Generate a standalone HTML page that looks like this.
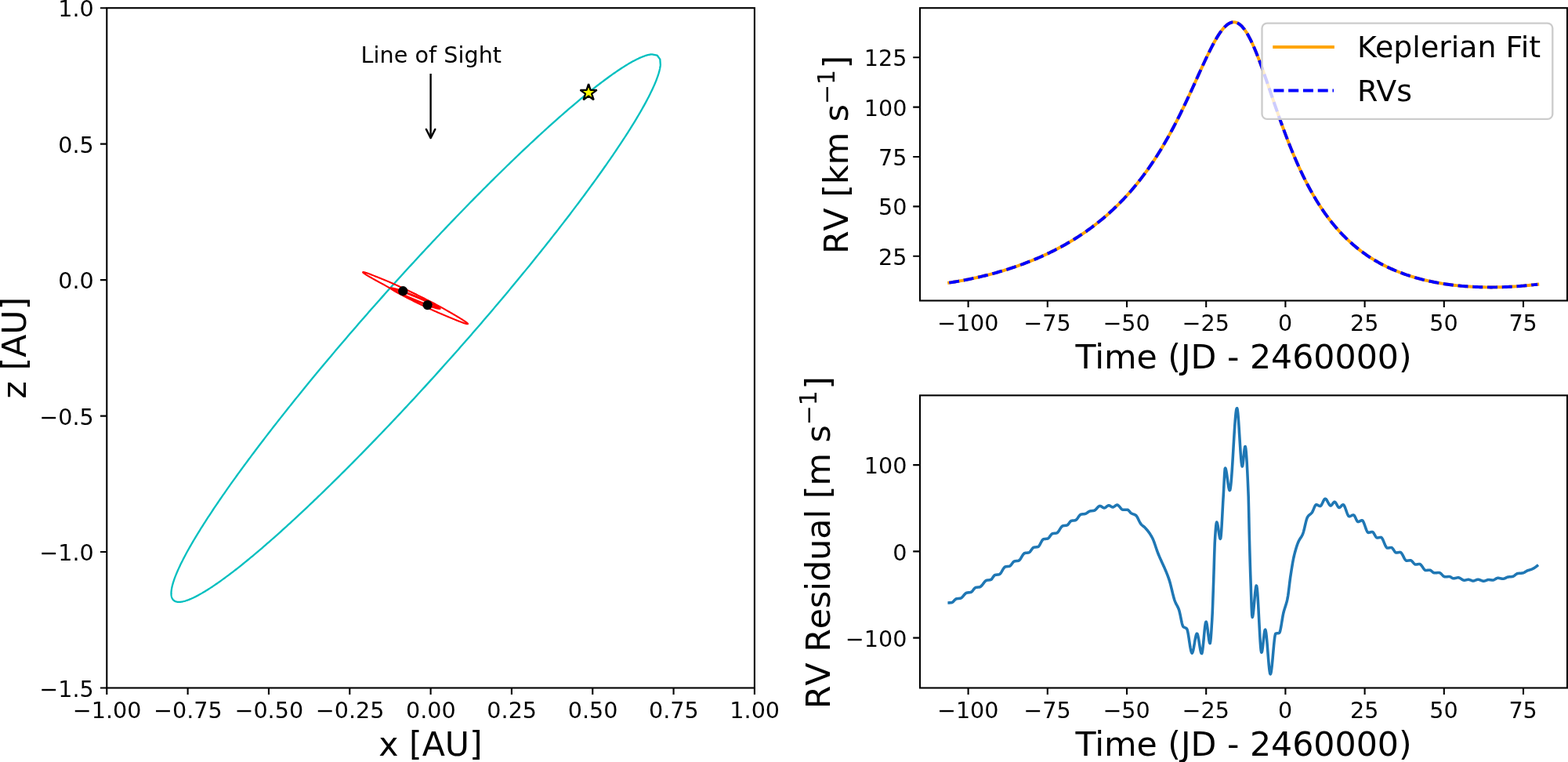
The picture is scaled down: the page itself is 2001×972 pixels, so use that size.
<!DOCTYPE html>
<html lang="en"><head><meta charset="utf-8"><title>Orbit and RV figure</title>
<style>html,body{margin:0;padding:0;background:#fff}svg{display:block}text{font-family:'DejaVu Sans','Liberation Sans',sans-serif;fill:#000}</style></head><body>
<svg width="2001" height="972" viewBox="0 0 2001 972">
<rect width="2001" height="972" fill="#fff"/>
<g fill="none" stroke-linejoin="round" stroke-linecap="round">
<path d="M221.59 765.72L221.22 765.37L220.87 764.99L220.55 764.58L220.25 764.15L219.97 763.69L219.72 763.21L219.49 762.69L219.29 762.16L219.11 761.59L218.95 761.00L218.82 760.39L218.71 759.75L218.62 759.08L218.56 758.39L218.52 757.67L218.51 756.92L218.52 756.15L218.55 755.35L218.61 754.53L218.69 753.68L218.79 752.81L218.92 751.91L219.07 750.99L219.25 750.04L219.45 749.06L219.67 748.06L219.92 747.04L220.19 745.99L220.48 744.91L220.80 743.81L221.14 742.69L221.51 741.54L221.89 740.36L222.31 739.17L222.74 737.94L223.20 736.70L223.68 735.42L224.19 734.13L224.72 732.81L225.27 731.46L225.85 730.10L226.44 728.71L227.07 727.29L227.71 725.85L228.38 724.39L229.07 722.91L229.79 721.40L230.52 719.87L231.28 718.31L232.07 716.74L232.87 715.14L233.70 713.52L234.55 711.87L235.42 710.20L236.32 708.51L237.24 706.80L238.18 705.07L239.14 703.31L240.13 701.54L241.13 699.74L242.16 697.92L243.21 696.08L244.29 694.22L245.38 692.33L246.50 690.43L247.64 688.51L248.80 686.56L249.98 684.59L251.18 682.61L252.41 680.60L253.65 678.58L254.92 676.53L256.20 674.47L257.51 672.38L258.84 670.28L260.19 668.15L261.56 666.01L262.95 663.85L264.36 661.67L265.80 659.47L267.25 657.26L268.72 655.02L270.21 652.77L271.72 650.50L273.25 648.21L274.80 645.90L276.37 643.58L277.96 641.24L279.57 638.88L281.20 636.51L282.85 634.12L284.52 631.71L286.20 629.29L287.90 626.85L289.63 624.39L291.37 621.92L293.12 619.43L294.90 616.93L296.69 614.42L298.51 611.88L300.34 609.34L302.18 606.78L304.05 604.20L305.93 601.61L307.83 599.01L309.75 596.39L311.68 593.76L313.63 591.12L315.60 588.46L317.58 585.79L319.58 583.11L321.59 580.41L323.62 577.70L325.67 574.99L327.73 572.25L329.81 569.51L331.90 566.76L334.01 563.99L336.14 561.21L338.27 558.42L340.43 555.63L342.59 552.82L344.78 550.00L346.97 547.17L349.18 544.33L351.40 541.48L353.64 538.62L355.89 535.75L358.16 532.88L360.43 529.99L362.72 527.10L365.03 524.20L367.34 521.29L369.67 518.37L372.01 515.45L374.36 512.51L376.73 509.57L379.10 506.63L381.49 503.67L383.89 500.71L386.30 497.75L388.72 494.78L391.15 491.80L393.59 488.82L396.05 485.83L398.51 482.83L400.98 479.83L403.47 476.83L405.96 473.82L408.46 470.81L410.97 467.79L413.49 464.77L416.02 461.75L418.56 458.72L421.11 455.70L423.66 452.66L426.23 449.63L428.80 446.59L431.38 443.55L433.96 440.51L436.56 437.47L439.16 434.42L441.77 431.38L444.38 428.33L447.00 425.28L449.63 422.23L452.27 419.19L454.91 416.14L457.55 413.09L460.20 410.04L462.86 406.99L465.52 403.95L468.19 400.90L470.86 397.86L473.54 394.82L476.22 391.78L478.90 388.74L481.59 385.70L484.28 382.67L486.98 379.64L489.68 376.61L492.38 373.59L495.09 370.56L497.79 367.55L500.50 364.53L503.22 361.52L505.93 358.52L508.65 355.52L511.37 352.52L514.09 349.53L516.81 346.55L519.53 343.57L522.25 340.59L524.98 337.62L527.70 334.66L530.43 331.71L533.15 328.76L535.87 325.81L538.60 322.88L541.32 319.95L544.04 317.03L546.77 314.12L549.49 311.21L552.21 308.32L554.92 305.43L557.64 302.55L560.35 299.68L563.06 296.82L565.77 293.96L568.48 291.12L571.18 288.29L573.88 285.46L576.58 282.65L579.27 279.85L581.96 277.05L584.64 274.27L587.33 271.50L590.00 268.74L592.68 266.00L595.34 263.26L598.01 260.53L600.66 257.82L603.32 255.12L605.96 252.43L608.61 249.76L611.24 247.10L613.87 244.45L616.49 241.81L619.11 239.19L621.72 236.58L624.32 233.99L626.92 231.40L629.51 228.84L632.09 226.29L634.66 223.75L637.22 221.23L639.78 218.72L642.33 216.23L644.87 213.75L647.40 211.29L649.92 208.84L652.44 206.41L654.94 204.00L657.44 201.60L659.92 199.22L662.40 196.86L664.86 194.51L667.32 192.18L669.76 189.87L672.20 187.57L674.62 185.29L677.03 183.03L679.43 180.79L681.82 178.57L684.20 176.36L686.57 174.18L688.92 172.01L691.26 169.86L693.59 167.73L695.91 165.61L698.22 163.52L700.51 161.45L702.79 159.40L705.06 157.36L707.31 155.35L709.55 153.35L711.78 151.38L713.99 149.43L716.19 147.49L718.37 145.58L720.54 143.69L722.70 141.82L724.84 139.97L726.97 138.14L729.08 136.34L731.17 134.55L733.26 132.79L735.32 131.05L737.37 129.33L739.41 127.63L741.42 125.95L743.43 124.30L745.41 122.67L747.38 121.06L749.34 119.47L751.27 117.91L753.19 116.37L755.10 114.85L756.98 113.36L758.85 111.89L760.70 110.44L762.53 109.02L764.35 107.62L766.15 106.24L767.93 104.89L769.69 103.56L771.44 102.25L773.16 100.97L774.87 99.71L776.56 98.48L778.23 97.27L779.88 96.09L781.51 94.93L783.12 93.80L784.72 92.69L786.29 91.60L787.85 90.54L789.38 89.51L790.90 88.50L792.39 87.51L793.87 86.55L795.33 85.62L796.76 84.71L798.18 83.83L799.57 82.97L800.95 82.13L802.30 81.33L803.63 80.55L804.95 79.79L806.24 79.06L807.51 78.36L808.76 77.68L809.99 77.03L811.19 76.40L812.38 75.80L813.55 75.23L814.69 74.68L815.81 74.16L816.91 73.66L817.99 73.20L819.04 72.75L820.08 72.34L821.09 71.95L822.08 71.58L823.05 71.25L823.99 70.94L824.91 70.65L825.81 70.39L826.69 70.16L827.55 69.96L828.38 69.78L829.19 69.63L829.98 69.50L830.74 69.40L831.49 69.33L832.21 69.29L838.59 70.55L842.32 75.57L842.82 82.64L842.74 83.48L842.63 84.36L842.50 85.26L842.35 86.18L842.18 87.13L841.98 88.10L841.75 89.10L841.51 90.13L841.24 91.18L840.94 92.26L840.63 93.35L840.28 94.48L839.92 95.63L839.53 96.80L839.12 98.00L838.68 99.22L838.22 100.47L837.74 101.74L837.24 103.04L836.71 104.36L836.15 105.70L835.58 107.07L834.98 108.46L834.36 109.87L833.71 111.31L833.04 112.77L832.35 114.26L831.64 115.77L830.90 117.30L830.14 118.85L829.36 120.43L828.55 122.03L827.73 123.65L826.87 125.30L826.00 126.96L825.11 128.65L824.19 130.36L823.25 132.10L822.28 133.85L821.30 135.63L820.29 137.43L819.26 139.25L818.21 141.09L817.14 142.95L816.04 144.83L814.93 146.74L813.79 148.66L812.63 150.61L811.45 152.57L810.24 154.56L809.02 156.56L807.77 158.59L806.51 160.64L805.22 162.70L803.91 164.79L802.58 166.89L801.23 169.01L799.86 171.16L798.47 173.32L797.06 175.50L795.63 177.69L794.18 179.91L792.71 182.15L791.21 184.40L789.70 186.67L788.17 188.96L786.62 191.26L785.05 193.59L783.46 195.93L781.85 198.29L780.22 200.66L778.58 203.05L776.91 205.46L775.22 207.88L773.52 210.32L771.80 212.77L770.06 215.25L768.30 217.73L766.52 220.23L764.73 222.75L762.92 225.28L761.09 227.83L759.24 230.39L757.37 232.96L755.49 235.55L753.59 238.16L751.68 240.77L749.74 243.40L747.79 246.05L745.83 248.71L743.84 251.38L741.85 254.06L739.83 256.75L737.80 259.46L735.75 262.18L733.69 264.91L731.61 267.66L729.52 270.41L727.41 273.18L725.29 275.95L723.15 278.74L721.00 281.54L718.83 284.35L716.65 287.17L714.45 290.00L712.24 292.84L710.02 295.69L707.78 298.55L705.53 301.41L703.27 304.29L700.99 307.17L698.70 310.07L696.40 312.97L694.08 315.88L691.75 318.80L689.41 321.72L687.06 324.65L684.70 327.59L682.32 330.54L679.93 333.49L677.54 336.45L675.13 339.42L672.71 342.39L670.27 345.37L667.83 348.35L665.38 351.34L662.91 354.33L660.44 357.33L657.96 360.34L655.47 363.34L652.96 366.36L650.45 369.37L647.93 372.39L645.40 375.42L642.86 378.44L640.32 381.47L637.76 384.50L635.20 387.54L632.63 390.58L630.05 393.62L627.46 396.66L624.87 399.70L622.27 402.74L619.66 405.79L617.04 408.84L614.42 411.88L611.79 414.93L609.16 417.98L606.52 421.03L603.87 424.08L601.22 427.13L598.56 430.17L595.90 433.22L593.24 436.26L590.56 439.31L587.89 442.35L585.21 445.39L582.52 448.43L579.83 451.46L577.14 454.50L574.45 457.53L571.75 460.56L569.04 463.58L566.34 466.60L563.63 469.62L560.92 472.63L558.21 475.64L555.49 478.65L552.78 481.65L550.06 484.64L547.34 487.64L544.62 490.62L541.89 493.60L539.17 496.58L536.45 499.54L533.72 502.51L531.00 505.46L528.27 508.41L525.55 511.35L522.83 514.29L520.10 517.22L517.38 520.14L514.66 523.05L511.94 525.95L509.22 528.85L506.50 531.74L503.79 534.62L501.07 537.49L498.36 540.35L495.65 543.20L492.95 546.05L490.24 548.88L487.54 551.70L484.85 554.52L482.16 557.32L479.47 560.11L476.78 562.89L474.10 565.66L471.42 568.42L468.75 571.17L466.08 573.91L463.42 576.63L460.76 579.34L458.11 582.04L455.46 584.73L452.82 587.41L450.18 590.07L447.55 592.72L444.93 595.35L442.32 597.98L439.71 600.59L437.10 603.18L434.51 605.76L431.92 608.33L429.34 610.88L426.77 613.42L424.20 615.94L421.64 618.45L419.09 620.94L416.55 623.42L414.02 625.88L411.50 628.32L408.99 630.75L406.48 633.17L403.99 635.57L401.50 637.95L399.03 640.31L396.56 642.66L394.11 644.99L391.66 647.30L389.23 649.59L386.81 651.87L384.39 654.13L381.99 656.37L379.60 658.60L377.22 660.80L374.86 662.99L372.50 665.16L370.16 667.31L367.83 669.44L365.51 671.55L363.21 673.64L360.91 675.72L358.63 677.77L356.37 679.80L354.11 681.82L351.87 683.81L349.65 685.79L347.43 687.74L345.24 689.67L343.05 691.58L340.88 693.48L338.72 695.35L336.58 697.20L334.46 699.02L332.35 700.83L330.25 702.62L328.17 704.38L326.10 706.12L324.05 707.84L322.02 709.54L320.00 711.21L318.00 712.87L316.01 714.50L314.04 716.11L312.09 717.69L310.15 719.26L308.23 720.80L306.33 722.31L304.44 723.81L302.57 725.28L300.72 726.73L298.89 728.15L297.07 729.55L295.28 730.93L293.50 732.28L291.73 733.61L289.99 734.91L288.26 736.20L286.56 737.45L284.87 738.68L283.20 739.89L281.55 741.08L279.91 742.24L278.30 743.37L276.71 744.48L275.13 745.56L273.58 746.62L272.04 747.66L270.53 748.67L269.03 749.65L267.55 750.61L266.10 751.55L264.66 752.46L263.25 753.34L261.85 754.20L260.48 755.03L259.12 755.84L257.79 756.62L256.48 757.38L255.19 758.10L253.91 758.81L252.67 759.49L251.44 760.14L250.23 760.76L249.04 761.36L247.88 761.94L246.74 762.49L245.61 763.01L244.52 763.50L243.44 763.97L242.38 764.41L241.35 764.83L240.34 765.22L239.35 765.58L238.38 765.92L237.43 766.23L236.51 766.52L235.61 766.77L234.73 767.00L233.88 767.21L233.04 767.39L232.23 767.54L231.44 767.66L230.68 767.76L229.94 767.83L229.22 767.88L228.52 767.90L227.85 767.89L227.20 767.85L226.57 767.79L225.97 767.71L225.39 767.59L224.83 767.45L224.30 767.28L223.79 767.09L223.30 766.87L222.84 766.62L222.40 766.35L221.98 766.05Z" stroke="#00bfbf" stroke-width="2.30"/>
<path d="M597.04 413.14L597.05 413.08L597.05 413.02L597.04 412.95L597.00 412.87L596.95 412.78L596.89 412.68L596.80 412.58L596.70 412.47L596.59 412.35L596.45 412.22L596.30 412.08L596.14 411.94L595.96 411.78L595.76 411.62L595.54 411.46L595.31 411.28L595.06 411.10L594.80 410.90L594.52 410.70L594.22 410.50L593.91 410.28L593.59 410.06L593.24 409.83L592.88 409.59L592.51 409.34L592.12 409.09L591.72 408.83L591.30 408.56L590.86 408.28L590.41 408.00L589.95 407.71L589.47 407.41L588.97 407.10L588.47 406.79L587.94 406.47L587.41 406.14L586.86 405.81L586.29 405.46L585.72 405.11L585.13 404.75L584.52 404.39L583.91 404.02L583.28 403.64L582.64 403.25L581.98 402.86L581.31 402.46L580.63 402.06L579.94 401.64L579.24 401.23L578.52 400.81L577.79 400.38L577.05 399.95L576.29 399.51L575.53 399.07L574.75 398.63L573.97 398.18L573.17 397.72L572.36 397.26L571.55 396.79L570.72 396.32L569.88 395.85L569.03 395.37L568.17 394.89L567.31 394.40L566.43 393.91L565.54 393.42L564.65 392.93L563.75 392.43L562.84 391.92L561.92 391.42L560.99 390.91L560.06 390.39L559.12 389.88L558.17 389.36L557.21 388.84L556.25 388.32L555.28 387.80L554.30 387.28L553.31 386.76L552.32 386.25L551.32 385.73L550.31 385.21L549.30 384.69L548.29 384.17L547.27 383.65L546.24 383.13L545.21 382.61L544.18 382.09L543.15 381.56L542.11 381.04L541.07 380.52L540.02 379.99L538.98 379.47L537.93 378.94L536.88 378.42L535.82 377.90L534.77 377.38L533.72 376.85L532.66 376.33L531.60 375.81L530.55 375.29L529.49 374.78L528.43 374.26L527.37 373.75L526.32 373.24L525.26 372.73L524.20 372.22L523.15 371.72L522.10 371.21L521.05 370.72L520.00 370.22L518.95 369.72L517.91 369.23L516.87 368.74L515.83 368.26L514.80 367.78L513.77 367.30L512.74 366.82L511.72 366.35L510.70 365.88L509.69 365.42L508.68 364.96L507.68 364.50L506.68 364.05L505.69 363.60L504.71 363.16L503.73 362.72L502.76 362.28L501.79 361.85L500.83 361.43L499.88 361.01L498.94 360.59L498.00 360.18L497.07 359.77L496.15 359.38L495.23 358.99L494.33 358.62L493.42 358.24L492.53 357.88L491.65 357.52L490.78 357.16L489.92 356.81L489.06 356.47L488.22 356.13L487.40 355.79L486.58 355.46L485.77 355.13L484.98 354.80L484.20 354.48L483.43 354.17L482.67 353.86L481.92 353.56L481.19 353.27L480.46 352.98L479.76 352.70L479.06 352.42L478.38 352.15L477.71 351.88L477.05 351.62L476.41 351.37L475.78 351.12L475.17 350.88L474.57 350.65L473.98 350.42L473.41 350.20L472.86 349.99L472.31 349.78L471.78 349.58L471.27 349.39L470.77 349.20L470.29 349.03L469.82 348.86L469.37 348.69L468.93 348.54L468.51 348.39L468.10 348.25L467.71 348.12L467.33 348.00L466.97 347.88L466.63 347.77L466.30 347.67L465.98 347.58L465.69 347.50L465.41 347.42L465.14 347.35L464.89 347.30L464.66 347.24L464.45 347.20L464.25 347.16L464.06 347.14L463.90 347.12L463.75 347.11L463.62 347.11L463.50 347.11L463.40 347.13L463.31 347.15L463.25 347.18L463.20 347.22L463.16 347.26L463.15 347.31L463.16 347.37L463.18 347.43L463.21 347.50L463.27 347.58L463.34 347.67L463.43 347.76L463.53 347.87L463.65 347.98L463.79 348.10L463.94 348.22L464.11 348.36L464.30 348.50L464.50 348.65L464.72 348.81L464.96 348.98L465.21 349.16L465.48 349.34L465.76 349.53L466.06 349.73L466.38 349.93L466.71 350.15L467.06 350.37L467.42 350.60L467.80 350.83L468.20 351.07L468.61 351.32L469.03 351.58L469.47 351.85L469.93 352.12L470.40 352.40L470.88 352.68L471.39 352.97L471.90 353.27L472.43 353.58L472.97 353.89L473.53 354.21L474.10 354.53L474.69 354.87L475.29 355.20L475.90 355.55L476.53 355.90L477.17 356.26L477.83 356.62L478.49 356.99L479.17 357.36L479.86 357.74L480.57 358.13L481.29 358.52L482.02 358.91L482.76 359.32L483.51 359.72L484.28 360.13L485.05 360.55L485.84 360.97L486.64 361.40L487.44 361.84L488.26 362.28L489.08 362.73L489.92 363.19L490.76 363.66L491.61 364.13L492.47 364.61L493.34 365.10L494.21 365.59L495.10 366.08L495.99 366.58L496.89 367.08L497.80 367.59L498.72 368.10L499.64 368.62L500.57 369.15L501.50 369.68L502.44 370.22L503.38 370.77L504.33 371.32L505.28 371.87L506.25 372.42L507.21 372.98L508.19 373.54L509.16 374.10L510.15 374.66L511.14 375.22L512.13 375.78L513.13 376.35L514.13 376.92L515.13 377.49L516.14 378.06L517.16 378.61L518.19 379.17L519.22 379.71L520.26 380.24L521.30 380.77L522.35 381.31L523.39 381.84L524.44 382.37L525.49 382.90L526.54 383.42L527.60 383.95L528.65 384.48L529.71 385.00L530.76 385.52L531.82 386.04L532.87 386.56L533.93 387.08L534.98 387.59L536.03 388.10L537.09 388.61L538.14 389.11L539.19 389.61L540.23 390.11L541.28 390.61L542.32 391.10L543.36 391.59L544.40 392.07L545.43 392.55L546.46 393.03L547.49 393.51L548.51 393.98L549.53 394.44L550.54 394.91L551.55 395.37L552.56 395.82L553.55 396.27L554.55 396.71L555.54 397.15L556.52 397.58L557.50 398.00L558.47 398.42L559.43 398.84L560.39 399.25L561.34 399.65L562.28 400.05L563.21 400.45L564.14 400.84L565.05 401.23L565.96 401.61L566.85 401.99L567.74 402.37L568.62 402.74L569.49 403.10L570.34 403.46L571.19 403.82L572.03 404.17L572.85 404.51L573.67 404.85L574.47 405.18L575.26 405.51L576.04 405.84L576.81 406.15L577.57 406.47L578.31 406.77L579.04 407.07L579.76 407.36L580.47 407.65L581.16 407.93L581.85 408.20L582.51 408.47L583.17 408.73L583.81 408.99L584.44 409.24L585.05 409.48L585.65 409.71L586.23 409.94L586.81 410.17L587.36 410.38L587.90 410.59L588.43 410.79L588.94 410.99L589.44 411.17L589.92 411.35L590.39 411.52L590.84 411.69L591.28 411.85L591.70 412.00L592.11 412.14L592.50 412.27L592.87 412.39L593.23 412.51L593.58 412.62L593.91 412.72L594.22 412.81L594.51 412.90L594.79 412.97L595.06 413.04L595.31 413.10L595.54 413.16L595.75 413.20L595.95 413.23L596.14 413.26L596.30 413.28L596.45 413.29L596.59 413.29L596.70 413.29L596.80 413.27L596.89 413.25L596.95 413.22L597.00 413.18Z" stroke="#f00" stroke-width="2.1"/>
<ellipse cx="529.96" cy="380.59" rx="34.00" ry="2.30" transform="rotate(22.600 529.96 380.59)" stroke="#f00" stroke-width="3.00"/>
</g>
<circle cx="514.30" cy="371.25" r="6.15" fill="#000"/>
<circle cx="545.60" cy="389.10" r="6.15" fill="#000"/>
<polygon points="751.10,107.20 753.59,114.87 761.66,114.87 755.13,119.61 757.62,127.28 751.10,122.54 744.58,127.28 747.07,119.61 740.54,114.87 748.61,114.87" fill="#ff0" stroke="#000" stroke-width="2.37" stroke-linejoin="bevel"/>
<text x="550.3" y="79.75" font-size="28.61" text-anchor="middle" letter-spacing="0.04">Line of Sight</text>
<path d="M549.6 94V176" stroke="#000" stroke-width="2.37" fill="none"/>
<path d="M543.9 164.9L549.6 176.1L555.3 164.9" stroke="#000" stroke-width="2.37" fill="none" stroke-linecap="round" stroke-linejoin="round"/>
<rect x="136.3" y="10.2" width="826.6" height="867.3" fill="none" stroke="#000" stroke-width="2.09" stroke-linejoin="miter"/>
<path d="M136.3 877.5v8.6M239.62 877.5v8.6M342.95 877.5v8.6M446.27 877.5v8.6M549.6 877.5v8.6M652.92 877.5v8.6M756.25 877.5v8.6M859.57 877.5v8.6M962.9 877.5v8.6" stroke="#000" stroke-width="2.09" fill="none"/>
<g font-size="28.61" text-anchor="middle">
<text x="136.6" y="916">−1.00</text>
<text x="239.92" y="916">−0.75</text>
<text x="343.25" y="916">−0.50</text>
<text x="446.57" y="916">−0.25</text>
<text x="549.9" y="916">0.00</text>
<text x="653.22" y="916">0.25</text>
<text x="756.55" y="916">0.50</text>
<text x="859.87" y="916">0.75</text>
<text x="963.2" y="916">1.00</text>
</g>
<path d="M136.3 877.5h-8.29M136.3 704.04h-8.29M136.3 530.58h-8.29M136.3 357.12h-8.29M136.3 183.66h-8.29M136.3 10.2h-8.29" stroke="#000" stroke-width="2.09" fill="none"/>
<g font-size="28.61" text-anchor="end">
<text x="119.7" y="888.6">−1.5</text>
<text x="119.7" y="715.14">−1.0</text>
<text x="119.7" y="541.68">−0.5</text>
<text x="119.7" y="368.22">0.0</text>
<text x="119.7" y="194.76">0.5</text>
<text x="119.7" y="21.3">1.0</text>
</g>
<text x="549.45" y="963.5" font-size="42.66" text-anchor="middle">x [AU]</text>
<text transform="translate(32.9 443.64) rotate(-90)" font-size="42.66" text-anchor="middle">z [AU]</text>
<path d="M1211.20 360.66L1213.08 360.38L1214.96 360.08L1216.85 359.78L1218.73 359.47L1220.61 359.15L1222.49 358.83L1224.38 358.50L1226.26 358.16L1228.14 357.82L1230.02 357.46L1231.90 357.10L1233.79 356.74L1235.67 356.36L1237.55 355.98L1239.43 355.59L1241.32 355.19L1243.20 354.79L1245.08 354.38L1246.96 353.96L1248.84 353.53L1250.73 353.10L1252.61 352.65L1254.49 352.20L1256.37 351.74L1258.26 351.28L1260.14 350.80L1262.02 350.32L1263.90 349.83L1265.78 349.33L1267.67 348.83L1269.55 348.31L1271.43 347.79L1273.31 347.25L1275.19 346.71L1277.08 346.16L1278.96 345.61L1280.84 345.04L1282.72 344.46L1284.61 343.88L1286.49 343.28L1288.37 342.68L1290.25 342.07L1292.13 341.45L1294.02 340.82L1295.90 340.17L1297.78 339.52L1299.66 338.86L1301.55 338.19L1303.43 337.51L1305.31 336.82L1307.19 336.12L1309.07 335.41L1310.96 334.69L1312.84 333.95L1314.72 333.21L1316.60 332.46L1318.49 331.69L1320.37 330.91L1322.25 330.12L1324.13 329.32L1326.01 328.51L1327.90 327.69L1329.78 326.85L1331.66 326.00L1333.54 325.14L1335.43 324.27L1337.31 323.38L1339.19 322.48L1341.07 321.57L1342.95 320.64L1344.84 319.70L1346.72 318.75L1348.60 317.78L1350.48 316.80L1352.37 315.80L1354.25 314.79L1356.13 313.76L1358.01 312.72L1359.89 311.66L1361.78 310.59L1363.66 309.50L1365.54 308.39L1367.42 307.27L1369.31 306.13L1371.19 304.97L1373.07 303.80L1374.95 302.60L1376.83 301.39L1378.72 300.16L1380.60 298.91L1382.48 297.65L1384.36 296.36L1386.25 295.05L1388.13 293.72L1390.01 292.37L1391.89 291.00L1393.77 289.61L1395.66 288.19L1397.54 286.76L1399.42 285.30L1401.30 283.82L1403.18 282.31L1405.07 280.78L1406.95 279.22L1408.83 277.64L1410.71 276.03L1412.60 274.40L1414.48 272.74L1416.36 271.05L1418.24 269.33L1420.12 267.59L1422.01 265.81L1423.89 264.01L1425.77 262.17L1427.65 260.31L1429.54 258.41L1431.42 256.48L1433.30 254.52L1435.18 252.52L1437.06 250.49L1438.95 248.42L1440.83 246.32L1442.71 244.18L1444.59 242.00L1446.48 239.79L1448.36 237.53L1450.24 235.24L1452.12 232.91L1454.00 230.53L1455.89 228.11L1457.77 225.65L1459.65 223.15L1461.53 220.60L1463.42 218.00L1465.30 215.36L1467.18 212.67L1469.06 209.93L1470.94 207.15L1472.83 204.31L1474.71 201.43L1476.59 198.49L1478.47 195.51L1480.36 192.47L1482.24 189.38L1484.12 186.23L1486.00 183.03L1487.88 179.78L1489.77 176.47L1491.65 173.11L1493.53 169.69L1495.41 166.22L1497.30 162.70L1499.18 159.12L1501.06 155.49L1502.94 151.80L1504.82 148.07L1506.71 144.28L1508.59 140.44L1510.47 136.56L1512.35 132.64L1514.24 128.67L1516.12 124.66L1518.00 120.62L1519.88 116.55L1521.76 112.45L1523.65 108.33L1525.53 104.20L1527.41 100.05L1529.29 95.91L1531.17 91.77L1533.06 87.64L1534.94 83.54L1536.82 79.48L1538.70 75.46L1540.59 71.50L1542.47 67.61L1544.35 63.81L1546.23 60.11L1548.11 56.52L1550.00 53.07L1551.88 49.76L1553.76 46.63L1555.64 43.68L1557.53 40.93L1559.41 38.41L1561.29 36.12L1563.17 34.09L1565.05 32.34L1566.94 30.88L1568.82 29.72L1570.70 28.88L1572.58 28.38L1574.47 28.22L1576.35 28.40L1578.23 28.94L1580.11 29.84L1581.99 31.09L1583.88 32.70L1585.76 34.66L1587.64 36.97L1589.52 39.60L1591.41 42.56L1593.29 45.82L1595.17 49.37L1597.05 53.19L1598.93 57.26L1600.82 61.56L1602.70 66.08L1604.58 70.78L1606.46 75.65L1608.35 80.66L1610.23 85.80L1612.11 91.04L1613.99 96.37L1615.87 101.76L1617.76 107.20L1619.64 112.67L1621.52 118.15L1623.40 123.63L1625.29 129.10L1627.17 134.55L1629.05 139.95L1630.93 145.31L1632.81 150.62L1634.70 155.87L1636.58 161.04L1638.46 166.14L1640.34 171.16L1642.23 176.10L1644.11 180.95L1645.99 185.71L1647.87 190.38L1649.75 194.95L1651.64 199.43L1653.52 203.82L1655.40 208.10L1657.28 212.30L1659.16 216.39L1661.05 220.39L1662.93 224.30L1664.81 228.12L1666.69 231.84L1668.58 235.47L1670.46 239.02L1672.34 242.47L1674.22 245.84L1676.10 249.13L1677.99 252.33L1679.87 255.45L1681.75 258.49L1683.63 261.46L1685.52 264.35L1687.40 267.16L1689.28 269.91L1691.16 272.58L1693.04 275.19L1694.93 277.73L1696.81 280.20L1698.69 282.61L1700.57 284.96L1702.46 287.25L1704.34 289.48L1706.22 291.66L1708.10 293.78L1709.98 295.84L1711.87 297.86L1713.75 299.82L1715.63 301.73L1717.51 303.59L1719.40 305.41L1721.28 307.18L1723.16 308.91L1725.04 310.59L1726.92 312.23L1728.81 313.83L1730.69 315.39L1732.57 316.91L1734.45 318.39L1736.34 319.84L1738.22 321.25L1740.10 322.62L1741.98 323.96L1743.86 325.27L1745.75 326.54L1747.63 327.79L1749.51 329.00L1751.39 330.18L1753.28 331.33L1755.16 332.46L1757.04 333.55L1758.92 334.62L1760.80 335.66L1762.69 336.68L1764.57 337.67L1766.45 338.63L1768.33 339.57L1770.22 340.49L1772.10 341.38L1773.98 342.26L1775.86 343.10L1777.74 343.93L1779.63 344.74L1781.51 345.53L1783.39 346.29L1785.27 347.04L1787.15 347.76L1789.04 348.47L1790.92 349.16L1792.80 349.83L1794.68 350.49L1796.57 351.12L1798.45 351.74L1800.33 352.34L1802.21 352.93L1804.09 353.50L1805.98 354.05L1807.86 354.59L1809.74 355.11L1811.62 355.62L1813.51 356.11L1815.39 356.59L1817.27 357.06L1819.15 357.51L1821.03 357.95L1822.92 358.37L1824.80 358.78L1826.68 359.18L1828.56 359.56L1830.45 359.94L1832.33 360.30L1834.21 360.65L1836.09 360.98L1837.97 361.31L1839.86 361.62L1841.74 361.92L1843.62 362.21L1845.50 362.49L1847.39 362.76L1849.27 363.02L1851.15 363.27L1853.03 363.51L1854.91 363.73L1856.80 363.95L1858.68 364.16L1860.56 364.35L1862.44 364.54L1864.33 364.72L1866.21 364.89L1868.09 365.04L1869.97 365.19L1871.85 365.33L1873.74 365.47L1875.62 365.59L1877.50 365.70L1879.38 365.81L1881.27 365.90L1883.15 365.99L1885.03 366.07L1886.91 366.14L1888.79 366.20L1890.68 366.26L1892.56 366.30L1894.44 366.34L1896.32 366.37L1898.21 366.39L1900.09 366.40L1901.97 366.41L1903.85 366.41L1905.73 366.40L1907.62 366.38L1909.50 366.36L1911.38 366.32L1913.26 366.28L1915.14 366.24L1917.03 366.18L1918.91 366.12L1920.79 366.05L1922.67 365.97L1924.56 365.89L1926.44 365.80L1928.32 365.70L1930.20 365.59L1932.08 365.48L1933.97 365.36L1935.85 365.23L1937.73 365.10L1939.61 364.96L1941.50 364.81L1943.38 364.65L1945.26 364.49L1947.14 364.32L1949.02 364.14L1950.91 363.96L1952.79 363.77L1954.67 363.57L1956.55 363.37L1958.44 363.16L1960.32 362.94L1962.20 362.71" fill="none" stroke="#ffa500" stroke-width="3.95" stroke-linecap="square" stroke-linejoin="round"/>
<path d="M1211.20 360.66L1213.08 360.38L1214.96 360.08L1216.85 359.78L1218.73 359.47L1220.61 359.15L1222.49 358.83L1224.38 358.50L1226.26 358.16L1228.14 357.82L1230.02 357.46L1231.90 357.10L1233.79 356.74L1235.67 356.36L1237.55 355.98L1239.43 355.59L1241.32 355.19L1243.20 354.79L1245.08 354.38L1246.96 353.96L1248.84 353.53L1250.73 353.10L1252.61 352.65L1254.49 352.20L1256.37 351.74L1258.26 351.28L1260.14 350.80L1262.02 350.32L1263.90 349.83L1265.78 349.33L1267.67 348.83L1269.55 348.31L1271.43 347.79L1273.31 347.25L1275.19 346.71L1277.08 346.16L1278.96 345.61L1280.84 345.04L1282.72 344.46L1284.61 343.88L1286.49 343.28L1288.37 342.68L1290.25 342.07L1292.13 341.45L1294.02 340.82L1295.90 340.17L1297.78 339.52L1299.66 338.86L1301.55 338.19L1303.43 337.51L1305.31 336.82L1307.19 336.12L1309.07 335.41L1310.96 334.69L1312.84 333.95L1314.72 333.21L1316.60 332.46L1318.49 331.69L1320.37 330.91L1322.25 330.12L1324.13 329.32L1326.01 328.51L1327.90 327.69L1329.78 326.85L1331.66 326.00L1333.54 325.14L1335.43 324.27L1337.31 323.38L1339.19 322.48L1341.07 321.57L1342.95 320.64L1344.84 319.70L1346.72 318.75L1348.60 317.78L1350.48 316.80L1352.37 315.80L1354.25 314.79L1356.13 313.76L1358.01 312.72L1359.89 311.66L1361.78 310.59L1363.66 309.50L1365.54 308.39L1367.42 307.27L1369.31 306.13L1371.19 304.97L1373.07 303.80L1374.95 302.60L1376.83 301.39L1378.72 300.16L1380.60 298.91L1382.48 297.65L1384.36 296.36L1386.25 295.05L1388.13 293.72L1390.01 292.37L1391.89 291.00L1393.77 289.61L1395.66 288.19L1397.54 286.76L1399.42 285.30L1401.30 283.82L1403.18 282.31L1405.07 280.78L1406.95 279.22L1408.83 277.64L1410.71 276.03L1412.60 274.40L1414.48 272.74L1416.36 271.05L1418.24 269.33L1420.12 267.59L1422.01 265.81L1423.89 264.01L1425.77 262.17L1427.65 260.31L1429.54 258.41L1431.42 256.48L1433.30 254.52L1435.18 252.52L1437.06 250.49L1438.95 248.42L1440.83 246.32L1442.71 244.18L1444.59 242.00L1446.48 239.79L1448.36 237.53L1450.24 235.24L1452.12 232.91L1454.00 230.53L1455.89 228.11L1457.77 225.65L1459.65 223.15L1461.53 220.60L1463.42 218.00L1465.30 215.36L1467.18 212.67L1469.06 209.93L1470.94 207.15L1472.83 204.31L1474.71 201.43L1476.59 198.49L1478.47 195.51L1480.36 192.47L1482.24 189.38L1484.12 186.23L1486.00 183.03L1487.88 179.78L1489.77 176.47L1491.65 173.11L1493.53 169.69L1495.41 166.22L1497.30 162.70L1499.18 159.12L1501.06 155.49L1502.94 151.80L1504.82 148.07L1506.71 144.28L1508.59 140.44L1510.47 136.56L1512.35 132.64L1514.24 128.67L1516.12 124.66L1518.00 120.62L1519.88 116.55L1521.76 112.45L1523.65 108.33L1525.53 104.20L1527.41 100.05L1529.29 95.91L1531.17 91.77L1533.06 87.64L1534.94 83.54L1536.82 79.48L1538.70 75.46L1540.59 71.50L1542.47 67.61L1544.35 63.81L1546.23 60.11L1548.11 56.52L1550.00 53.07L1551.88 49.76L1553.76 46.63L1555.64 43.68L1557.53 40.93L1559.41 38.41L1561.29 36.12L1563.17 34.09L1565.05 32.34L1566.94 30.88L1568.82 29.72L1570.70 28.88L1572.58 28.38L1574.47 28.22L1576.35 28.40L1578.23 28.94L1580.11 29.84L1581.99 31.09L1583.88 32.70L1585.76 34.66L1587.64 36.97L1589.52 39.60L1591.41 42.56L1593.29 45.82L1595.17 49.37L1597.05 53.19L1598.93 57.26L1600.82 61.56L1602.70 66.08L1604.58 70.78L1606.46 75.65L1608.35 80.66L1610.23 85.80L1612.11 91.04L1613.99 96.37L1615.87 101.76L1617.76 107.20L1619.64 112.67L1621.52 118.15L1623.40 123.63L1625.29 129.10L1627.17 134.55L1629.05 139.95L1630.93 145.31L1632.81 150.62L1634.70 155.87L1636.58 161.04L1638.46 166.14L1640.34 171.16L1642.23 176.10L1644.11 180.95L1645.99 185.71L1647.87 190.38L1649.75 194.95L1651.64 199.43L1653.52 203.82L1655.40 208.10L1657.28 212.30L1659.16 216.39L1661.05 220.39L1662.93 224.30L1664.81 228.12L1666.69 231.84L1668.58 235.47L1670.46 239.02L1672.34 242.47L1674.22 245.84L1676.10 249.13L1677.99 252.33L1679.87 255.45L1681.75 258.49L1683.63 261.46L1685.52 264.35L1687.40 267.16L1689.28 269.91L1691.16 272.58L1693.04 275.19L1694.93 277.73L1696.81 280.20L1698.69 282.61L1700.57 284.96L1702.46 287.25L1704.34 289.48L1706.22 291.66L1708.10 293.78L1709.98 295.84L1711.87 297.86L1713.75 299.82L1715.63 301.73L1717.51 303.59L1719.40 305.41L1721.28 307.18L1723.16 308.91L1725.04 310.59L1726.92 312.23L1728.81 313.83L1730.69 315.39L1732.57 316.91L1734.45 318.39L1736.34 319.84L1738.22 321.25L1740.10 322.62L1741.98 323.96L1743.86 325.27L1745.75 326.54L1747.63 327.79L1749.51 329.00L1751.39 330.18L1753.28 331.33L1755.16 332.46L1757.04 333.55L1758.92 334.62L1760.80 335.66L1762.69 336.68L1764.57 337.67L1766.45 338.63L1768.33 339.57L1770.22 340.49L1772.10 341.38L1773.98 342.26L1775.86 343.10L1777.74 343.93L1779.63 344.74L1781.51 345.53L1783.39 346.29L1785.27 347.04L1787.15 347.76L1789.04 348.47L1790.92 349.16L1792.80 349.83L1794.68 350.49L1796.57 351.12L1798.45 351.74L1800.33 352.34L1802.21 352.93L1804.09 353.50L1805.98 354.05L1807.86 354.59L1809.74 355.11L1811.62 355.62L1813.51 356.11L1815.39 356.59L1817.27 357.06L1819.15 357.51L1821.03 357.95L1822.92 358.37L1824.80 358.78L1826.68 359.18L1828.56 359.56L1830.45 359.94L1832.33 360.30L1834.21 360.65L1836.09 360.98L1837.97 361.31L1839.86 361.62L1841.74 361.92L1843.62 362.21L1845.50 362.49L1847.39 362.76L1849.27 363.02L1851.15 363.27L1853.03 363.51L1854.91 363.73L1856.80 363.95L1858.68 364.16L1860.56 364.35L1862.44 364.54L1864.33 364.72L1866.21 364.89L1868.09 365.04L1869.97 365.19L1871.85 365.33L1873.74 365.47L1875.62 365.59L1877.50 365.70L1879.38 365.81L1881.27 365.90L1883.15 365.99L1885.03 366.07L1886.91 366.14L1888.79 366.20L1890.68 366.26L1892.56 366.30L1894.44 366.34L1896.32 366.37L1898.21 366.39L1900.09 366.40L1901.97 366.41L1903.85 366.41L1905.73 366.40L1907.62 366.38L1909.50 366.36L1911.38 366.32L1913.26 366.28L1915.14 366.24L1917.03 366.18L1918.91 366.12L1920.79 366.05L1922.67 365.97L1924.56 365.89L1926.44 365.80L1928.32 365.70L1930.20 365.59L1932.08 365.48L1933.97 365.36L1935.85 365.23L1937.73 365.10L1939.61 364.96L1941.50 364.81L1943.38 364.65L1945.26 364.49L1947.14 364.32L1949.02 364.14L1950.91 363.96L1952.79 363.77L1954.67 363.57L1956.55 363.37L1958.44 363.16L1960.32 362.94L1962.20 362.71" fill="none" stroke="#00f" stroke-width="3.95" stroke-dasharray="13.00 5.77" stroke-linejoin="round"/>
<rect x="1174" y="10.2" width="826" height="373.3" fill="none" stroke="#000" stroke-width="2.09" stroke-linejoin="miter"/>
<path d="M1235.6 383.5v8.6M1336.8 383.5v8.6M1438 383.5v8.6M1539.2 383.5v8.6M1640.4 383.5v8.6M1741.6 383.5v8.6M1842.8 383.5v8.6M1944 383.5v8.6" stroke="#000" stroke-width="2.09" fill="none"/>
<g font-size="28.61" text-anchor="middle">
<text x="1235.2" y="422">−100</text>
<text x="1336.4" y="422">−75</text>
<text x="1437.6" y="422">−50</text>
<text x="1538.8" y="422">−25</text>
<text x="1640" y="422">0</text>
<text x="1741.2" y="422">25</text>
<text x="1842.4" y="422">50</text>
<text x="1943.6" y="422">75</text>
</g>
<path d="M1174 326.75h-8.79M1174 263.39h-8.79M1174 200.03h-8.79M1174 136.66h-8.79M1174 73.3h-8.79" stroke="#000" stroke-width="2.09" fill="none"/>
<g font-size="28.61" text-anchor="end">
<text x="1157.4" y="337.85">25</text>
<text x="1157.4" y="274.49">50</text>
<text x="1157.4" y="211.12">75</text>
<text x="1157.4" y="147.76">100</text>
<text x="1157.4" y="84.4">125</text>
</g>
<text x="1587" y="469.5" font-size="42.66" text-anchor="middle">Time (JD - 2460000)</text>
<text transform="translate(1082.4 197.4) rotate(-90)" font-size="42.66" text-anchor="middle" style="font-kerning:none">RV [km s<tspan font-size="29.86" dy="-17.06">−1</tspan><tspan dy="17.06" dx="1.5">]</tspan></text>
<rect x="1610.5" y="29.6" width="370.8" height="122.3" rx="6.5" ry="6.5" fill="#fff" fill-opacity="0.8" stroke="#ccc" stroke-width="2.37"/>
<path d="M1626.2 59.9H1700.9" stroke="#ffa500" stroke-width="3.95" stroke-linecap="square" fill="none"/>
<path d="M1625.4 115.5H1702" stroke="#00f" stroke-width="3.95" stroke-dasharray="13.00 5.77" fill="none"/>
<text x="1732" y="73.4" font-size="37.92">Keplerian Fit</text>
<text x="1732" y="129" font-size="37.92">RVs</text>
<rect x="1174" y="504.36" width="826" height="373.14" fill="none" stroke="#000" stroke-width="2.09" stroke-linejoin="miter"/>
<path d="M1235.6 877.5v8.6M1336.8 877.5v8.6M1438 877.5v8.6M1539.2 877.5v8.6M1640.4 877.5v8.6M1741.6 877.5v8.6M1842.8 877.5v8.6M1944 877.5v8.6" stroke="#000" stroke-width="2.09" fill="none"/>
<g font-size="28.61" text-anchor="middle">
<text x="1235.2" y="916">−100</text>
<text x="1336.4" y="916">−75</text>
<text x="1437.6" y="916">−50</text>
<text x="1538.8" y="916">−25</text>
<text x="1640" y="916">0</text>
<text x="1741.2" y="916">25</text>
<text x="1842.4" y="916">50</text>
<text x="1943.6" y="916">75</text>
</g>
<path d="M1174 813.65h-8.79M1174 703.4h-8.79M1174 593.15h-8.79" stroke="#000" stroke-width="2.09" fill="none"/>
<g font-size="28.61" text-anchor="end">
<text x="1157.4" y="824.75">−100</text>
<text x="1157.4" y="714.5">0</text>
<text x="1157.4" y="604.25">100</text>
</g>
<text x="1587" y="963.5" font-size="42.66" text-anchor="middle">Time (JD - 2460000)</text>
<text transform="translate(1059.2 692.1) rotate(-90)" font-size="42.66" text-anchor="middle" style="font-kerning:none">RV Residual [m s<tspan font-size="29.86" dy="-17.06">−1</tspan><tspan dy="17.06" dx="1.5">]</tspan></text>
<path d="M1211.20 768.90L1211.70 768.89L1212.20 768.87L1212.70 768.83L1213.20 768.78L1213.70 768.71L1214.20 768.64L1214.70 768.56L1215.20 768.35L1215.70 768.03L1216.20 767.62L1216.70 767.13L1217.20 766.61L1217.70 766.06L1218.20 765.52L1218.70 765.02L1219.20 764.57L1219.70 764.20L1220.20 763.94L1220.70 763.81L1221.20 763.71L1221.70 763.64L1222.20 763.58L1222.70 763.53L1223.20 763.49L1223.70 763.44L1224.20 763.39L1224.70 763.33L1225.20 763.25L1225.70 763.15L1226.20 762.98L1226.70 762.70L1227.20 762.34L1227.70 761.89L1228.20 761.38L1228.70 760.83L1229.20 760.25L1229.70 759.65L1230.20 759.05L1230.70 758.47L1231.20 757.92L1231.70 757.41L1232.20 756.96L1232.70 756.60L1233.20 756.32L1233.70 756.15L1234.20 756.05L1234.70 755.97L1235.20 755.91L1235.70 755.86L1236.20 755.81L1236.70 755.77L1237.20 755.72L1237.70 755.66L1238.20 755.59L1238.70 755.49L1239.20 755.35L1239.70 755.06L1240.20 754.65L1240.70 754.13L1241.20 753.54L1241.70 752.91L1242.20 752.25L1242.70 751.61L1243.20 750.99L1243.70 750.45L1244.20 749.99L1244.70 749.65L1245.20 749.45L1245.70 749.35L1246.20 749.27L1246.70 749.20L1247.20 749.15L1247.70 749.10L1248.20 749.06L1248.70 749.01L1249.20 748.95L1249.70 748.88L1250.20 748.79L1250.70 748.66L1251.20 748.42L1251.70 748.06L1252.20 747.62L1252.70 747.10L1253.20 746.52L1253.70 745.90L1254.20 745.24L1254.70 744.57L1255.20 743.89L1255.70 743.23L1256.20 742.60L1256.70 742.01L1257.20 741.48L1257.70 741.02L1258.20 740.65L1258.70 740.38L1259.20 740.23L1259.70 740.13L1260.20 740.06L1260.70 740.00L1261.20 739.95L1261.70 739.91L1262.20 739.86L1262.70 739.81L1263.20 739.75L1263.70 739.67L1264.20 739.57L1264.70 739.39L1265.20 739.01L1265.70 738.47L1266.20 737.82L1266.70 737.10L1267.20 736.35L1267.70 735.60L1268.20 734.91L1268.70 734.30L1269.20 733.82L1269.70 733.52L1270.20 733.38L1270.70 733.29L1271.20 733.22L1271.70 733.17L1272.20 733.12L1272.70 733.08L1273.20 733.03L1273.70 732.98L1274.20 732.92L1274.70 732.83L1275.20 732.72L1275.70 732.48L1276.20 732.08L1276.70 731.53L1277.20 730.87L1277.70 730.13L1278.20 729.31L1278.70 728.46L1279.20 727.59L1279.70 726.72L1280.20 725.89L1280.70 725.12L1281.20 724.42L1281.70 723.83L1282.20 723.36L1282.70 723.05L1283.20 722.91L1283.70 722.81L1284.20 722.74L1284.70 722.68L1285.20 722.64L1285.70 722.59L1286.20 722.55L1286.70 722.50L1287.20 722.43L1287.70 722.35L1288.20 722.25L1288.70 722.05L1289.20 721.70L1289.70 721.23L1290.20 720.67L1290.70 720.04L1291.20 719.37L1291.70 718.69L1292.20 718.03L1292.70 717.41L1293.20 716.86L1293.70 716.42L1294.20 716.10L1294.70 715.93L1295.20 715.83L1295.70 715.75L1296.20 715.69L1296.70 715.64L1297.20 715.60L1297.70 715.56L1298.20 715.51L1298.70 715.45L1299.20 715.37L1299.70 715.27L1300.20 715.10L1300.70 714.76L1301.20 714.27L1301.70 713.66L1302.20 712.96L1302.70 712.18L1303.20 711.34L1303.70 710.49L1304.20 709.63L1304.70 708.79L1305.20 707.99L1305.70 707.27L1306.20 706.64L1306.70 706.13L1307.20 705.76L1307.70 705.55L1308.20 705.45L1308.70 705.37L1309.20 705.31L1309.70 705.25L1310.20 705.21L1310.70 705.17L1311.20 705.12L1311.70 705.06L1312.20 704.99L1312.70 704.89L1313.20 704.75L1313.70 704.44L1314.20 704.00L1314.70 703.45L1315.20 702.81L1315.70 702.12L1316.20 701.41L1316.70 700.70L1317.20 700.03L1317.70 699.42L1318.20 698.91L1318.70 698.52L1319.20 698.28L1319.70 698.17L1320.20 698.08L1320.70 698.02L1321.20 697.96L1321.70 697.92L1322.20 697.88L1322.70 697.83L1323.20 697.77L1323.70 697.70L1324.20 697.62L1324.70 697.48L1325.20 697.17L1325.70 696.67L1326.20 696.01L1326.70 695.22L1327.20 694.35L1327.70 693.42L1328.20 692.46L1328.70 691.50L1329.20 690.59L1329.70 689.75L1330.20 689.01L1330.70 688.41L1331.20 687.98L1331.70 687.75L1332.20 687.65L1332.70 687.57L1333.20 687.50L1333.70 687.45L1334.20 687.41L1334.70 687.36L1335.20 687.32L1335.70 687.26L1336.20 687.19L1336.70 687.09L1337.20 686.95L1337.70 686.65L1338.20 686.20L1338.70 685.65L1339.20 685.02L1339.70 684.34L1340.20 683.64L1340.70 682.95L1341.20 682.29L1341.70 681.70L1342.20 681.22L1342.70 680.85L1343.20 680.65L1343.70 680.55L1344.20 680.47L1344.70 680.40L1345.20 680.35L1345.70 680.31L1346.20 680.26L1346.70 680.21L1347.20 680.16L1347.70 680.09L1348.20 679.99L1348.70 679.85L1349.20 679.56L1349.70 679.13L1350.20 678.59L1350.70 677.95L1351.20 677.23L1351.70 676.47L1352.20 675.67L1352.70 674.87L1353.20 674.08L1353.70 673.32L1354.20 672.62L1354.70 672.00L1355.20 671.47L1355.70 671.07L1356.20 670.81L1356.70 670.69L1357.20 670.60L1357.70 670.53L1358.20 670.48L1358.70 670.43L1359.20 670.39L1359.70 670.34L1360.20 670.29L1360.70 670.22L1361.20 670.14L1361.70 670.02L1362.20 669.77L1362.70 669.35L1363.20 668.80L1363.70 668.17L1364.20 667.48L1364.70 666.78L1365.20 666.10L1365.70 665.48L1366.20 664.95L1366.70 664.57L1367.20 664.35L1367.70 664.25L1368.20 664.16L1368.70 664.10L1369.20 664.05L1369.70 664.00L1370.20 663.96L1370.70 663.91L1371.20 663.86L1371.70 663.79L1372.20 663.69L1372.70 663.55L1373.20 663.26L1373.70 662.83L1374.20 662.30L1374.70 661.67L1375.20 660.99L1375.70 660.27L1376.20 659.53L1376.70 658.81L1377.20 658.13L1377.70 657.50L1378.20 656.97L1378.70 656.54L1379.20 656.25L1379.70 656.11L1380.20 656.01L1380.70 655.94L1381.20 655.88L1381.70 655.83L1382.20 655.78L1382.70 655.73L1383.20 655.68L1383.70 655.62L1384.20 655.54L1384.70 655.45L1385.20 655.31L1385.70 655.10L1386.20 654.83L1386.70 654.53L1387.20 654.19L1387.70 653.84L1388.20 653.49L1388.70 653.14L1389.20 652.81L1389.70 652.51L1390.20 652.26L1390.70 652.06L1391.20 651.93L1391.70 651.84L1392.20 651.77L1392.70 651.70L1393.20 651.65L1393.70 651.61L1394.20 651.56L1394.70 651.51L1395.20 651.44L1395.70 651.37L1396.20 651.27L1396.70 651.12L1397.20 650.86L1397.70 650.50L1398.20 650.06L1398.70 649.56L1399.20 649.02L1399.70 648.46L1400.20 647.90L1400.70 647.35L1401.20 646.83L1401.70 646.36L1402.20 645.97L1402.70 645.67L1403.20 645.47L1403.70 645.40L1404.20 645.46L1404.70 645.63L1405.20 645.87L1405.70 646.17L1406.20 646.51L1406.70 646.86L1407.20 647.19L1407.70 647.48L1408.20 647.71L1408.70 647.86L1409.20 647.90L1409.70 647.81L1410.20 647.61L1410.70 647.33L1411.20 646.99L1411.70 646.60L1412.20 646.20L1412.70 645.81L1413.20 645.45L1413.70 645.14L1414.20 644.91L1414.70 644.77L1415.20 644.76L1415.70 644.86L1416.20 645.06L1416.70 645.33L1417.20 645.63L1417.70 645.95L1418.20 646.26L1418.70 646.54L1419.20 646.75L1419.70 646.88L1420.20 646.89L1420.70 646.78L1421.20 646.57L1421.70 646.28L1422.20 645.94L1422.70 645.57L1423.20 645.20L1423.70 644.85L1424.20 644.54L1424.70 644.29L1425.20 644.14L1425.70 644.10L1426.20 644.21L1426.70 644.46L1427.20 644.82L1427.70 645.28L1428.20 645.80L1428.70 646.38L1429.20 646.99L1429.70 647.60L1430.20 648.20L1430.70 648.76L1431.20 649.27L1431.70 649.69L1432.20 650.01L1432.70 650.20L1433.20 650.25L1433.70 650.25L1434.20 650.25L1434.70 650.25L1435.20 650.25L1435.70 650.25L1436.20 650.25L1436.70 650.25L1437.20 650.25L1437.70 650.25L1438.20 650.25L1438.70 650.25L1439.20 650.35L1439.70 650.62L1440.20 651.03L1440.70 651.55L1441.20 652.13L1441.70 652.74L1442.20 653.34L1442.70 653.90L1443.20 654.38L1443.70 654.75L1444.20 655.02L1444.70 655.26L1445.20 655.46L1445.70 655.65L1446.20 655.82L1446.70 655.99L1447.20 656.16L1447.70 656.35L1448.20 656.57L1448.70 656.82L1449.20 657.12L1449.70 657.49L1450.20 658.02L1450.70 658.71L1451.20 659.51L1451.70 660.41L1452.20 661.39L1452.70 662.41L1453.20 663.46L1453.70 664.50L1454.20 665.51L1454.70 666.46L1455.20 667.34L1455.70 668.11L1456.20 668.75L1456.70 669.28L1457.20 669.76L1457.70 670.19L1458.20 670.59L1458.70 670.98L1459.20 671.36L1459.70 671.75L1460.20 672.16L1460.70 672.60L1461.20 673.10L1461.70 673.63L1462.20 674.17L1462.70 674.73L1463.20 675.30L1463.70 675.89L1464.20 676.50L1464.70 677.12L1465.20 677.76L1465.70 678.43L1466.20 679.11L1466.70 679.82L1467.20 680.55L1467.70 681.31L1468.20 682.10L1468.70 682.91L1469.20 683.74L1469.70 684.61L1470.20 685.51L1470.70 686.44L1471.20 687.47L1471.70 688.61L1472.20 689.85L1472.70 691.17L1473.20 692.57L1473.70 694.01L1474.20 695.49L1474.70 696.98L1475.20 698.48L1475.70 699.97L1476.20 701.44L1476.70 702.86L1477.20 704.22L1477.70 705.51L1478.20 706.76L1478.70 707.98L1479.20 709.18L1479.70 710.35L1480.20 711.50L1480.70 712.64L1481.20 713.76L1481.70 714.86L1482.20 715.96L1482.70 717.05L1483.20 718.14L1483.70 719.22L1484.20 720.31L1484.70 721.40L1485.20 722.50L1485.70 723.60L1486.20 724.72L1486.70 725.85L1487.20 727.01L1487.70 728.18L1488.20 729.37L1488.70 730.59L1489.20 731.84L1489.70 733.13L1490.20 734.44L1490.70 735.79L1491.20 737.18L1491.70 738.62L1492.20 740.11L1492.70 741.73L1493.20 743.50L1493.70 745.37L1494.20 747.33L1494.70 749.35L1495.20 751.42L1495.70 753.49L1496.20 755.56L1496.70 757.59L1497.20 759.56L1497.70 761.45L1498.20 763.22L1498.70 764.87L1499.20 766.35L1499.70 767.67L1500.20 768.83L1500.70 769.88L1501.20 770.85L1501.70 771.78L1502.20 772.70L1502.70 773.64L1503.20 774.65L1503.70 775.74L1504.20 776.97L1504.70 778.40L1505.20 780.23L1505.70 782.37L1506.20 784.72L1506.70 787.20L1507.20 789.69L1507.70 792.10L1508.20 794.34L1508.70 796.30L1509.20 797.89L1509.70 799.00L1510.20 799.58L1510.70 799.96L1511.20 800.24L1511.70 800.46L1512.20 800.65L1512.70 800.84L1513.20 801.06L1513.70 801.35L1514.20 801.72L1514.70 802.34L1515.20 803.69L1515.70 805.70L1516.20 808.23L1516.70 811.16L1517.20 814.34L1517.70 817.65L1518.20 820.95L1518.70 824.11L1519.20 826.99L1519.70 829.46L1520.20 831.39L1520.70 832.65L1521.20 833.10L1521.70 832.65L1522.20 831.41L1522.70 829.52L1523.20 827.14L1523.70 824.41L1524.20 821.49L1524.70 818.53L1525.20 815.66L1525.70 813.06L1526.20 810.85L1526.70 809.21L1527.20 808.26L1527.70 808.18L1528.20 809.07L1528.70 810.77L1529.20 813.11L1529.70 815.92L1530.20 819.01L1530.70 822.21L1531.20 825.33L1531.70 828.21L1532.20 830.66L1532.70 832.50L1533.20 833.56L1533.70 833.60L1534.20 832.00L1534.70 828.95L1535.20 824.79L1535.70 819.86L1536.20 814.51L1536.70 809.10L1537.20 803.96L1537.70 799.45L1538.20 795.91L1538.70 793.69L1539.20 793.13L1539.70 794.19L1540.20 796.51L1540.70 799.75L1541.20 803.58L1541.70 807.67L1542.20 811.70L1542.70 815.34L1543.20 818.25L1543.70 820.10L1544.20 820.53L1544.70 818.41L1545.20 813.79L1545.70 807.34L1546.20 799.73L1546.70 791.62L1547.20 782.15L1547.70 769.38L1548.20 754.92L1548.70 740.50L1549.20 724.79L1549.70 707.82L1550.20 693.38L1550.70 684.53L1551.20 677.50L1551.70 671.59L1552.20 667.52L1552.70 666.00L1553.20 666.68L1553.70 668.51L1554.20 671.17L1554.70 674.37L1555.20 677.78L1555.70 681.10L1556.20 684.01L1556.70 686.21L1557.20 687.39L1557.70 686.85L1558.20 683.21L1558.70 676.98L1559.20 668.90L1559.70 659.69L1560.20 650.07L1560.70 640.76L1561.20 632.50L1561.70 623.59L1562.20 613.37L1562.70 604.10L1563.20 598.05L1563.70 597.00L1564.20 598.05L1564.70 600.08L1565.20 602.85L1565.70 606.16L1566.20 609.77L1566.70 613.47L1567.20 617.04L1567.70 620.25L1568.20 622.89L1568.70 624.74L1569.20 625.57L1569.70 625.02L1570.20 622.78L1570.70 619.05L1571.20 614.01L1571.70 607.89L1572.20 600.88L1572.70 593.18L1573.20 584.99L1573.70 576.52L1574.20 567.97L1574.70 559.54L1575.20 551.44L1575.70 543.86L1576.20 537.01L1576.70 531.09L1577.20 526.30L1577.70 522.84L1578.20 520.93L1578.70 520.79L1579.20 522.80L1579.70 526.73L1580.20 532.23L1580.70 538.92L1581.20 546.47L1581.70 554.52L1582.20 562.71L1582.70 570.69L1583.20 578.10L1583.70 584.58L1584.20 589.79L1584.70 593.36L1585.20 594.95L1585.70 594.17L1586.20 591.19L1586.70 586.78L1587.20 581.68L1587.70 576.66L1588.20 572.47L1588.70 569.88L1589.20 569.60L1589.70 571.76L1590.20 576.08L1590.70 582.32L1591.20 590.23L1591.70 599.54L1592.20 610.02L1592.70 621.41L1593.20 633.77L1593.70 654.70L1594.20 678.47L1594.70 697.50L1595.20 715.25L1595.70 731.37L1596.20 745.68L1596.70 760.81L1597.20 774.82L1597.70 784.67L1598.20 787.46L1598.70 786.06L1599.20 782.98L1599.70 778.63L1600.20 773.43L1600.70 767.77L1601.20 762.08L1601.70 756.75L1602.20 752.20L1602.70 748.84L1603.20 747.07L1603.70 747.43L1604.20 750.47L1604.70 755.80L1605.20 762.96L1605.70 771.47L1606.20 780.87L1606.70 790.69L1607.20 800.46L1607.70 809.72L1608.20 818.00L1608.70 824.82L1609.20 829.74L1609.70 832.26L1610.20 832.16L1610.70 830.23L1611.20 827.00L1611.70 822.87L1612.20 818.27L1612.70 813.63L1613.20 809.37L1613.70 805.92L1614.20 803.70L1614.70 803.14L1615.20 804.43L1615.70 807.31L1616.20 811.51L1616.70 816.72L1617.20 822.63L1617.70 828.97L1618.20 835.42L1618.70 841.69L1619.20 847.49L1619.70 852.52L1620.20 856.48L1620.70 859.07L1621.20 860.00L1621.70 859.21L1622.20 856.99L1622.70 853.60L1623.20 849.28L1623.70 844.26L1624.20 838.79L1624.70 833.12L1625.20 827.50L1625.70 822.15L1626.20 817.33L1626.70 813.28L1627.20 810.24L1627.70 808.46L1628.20 808.05L1628.70 807.96L1629.20 807.89L1629.70 807.84L1630.20 807.80L1630.70 807.76L1631.20 807.71L1631.70 807.64L1632.20 807.55L1632.70 807.27L1633.20 806.29L1633.70 804.64L1634.20 802.46L1634.70 799.87L1635.20 796.99L1635.70 793.95L1636.20 790.86L1636.70 787.84L1637.20 785.03L1637.70 782.54L1638.20 780.47L1638.70 778.65L1639.20 776.99L1639.70 775.43L1640.20 773.92L1640.70 772.40L1641.20 770.82L1641.70 769.11L1642.20 767.24L1642.70 765.14L1643.20 762.73L1643.70 759.71L1644.20 756.15L1644.70 752.24L1645.20 748.14L1645.70 744.01L1646.20 740.02L1646.70 736.34L1647.20 733.04L1647.70 729.79L1648.20 726.57L1648.70 723.43L1649.20 720.39L1649.70 717.49L1650.20 714.77L1650.70 712.26L1651.20 710.00L1651.70 707.91L1652.20 705.91L1652.70 703.99L1653.20 702.16L1653.70 700.41L1654.20 698.75L1654.70 697.17L1655.20 695.68L1655.70 694.27L1656.20 692.95L1656.70 691.72L1657.20 690.58L1657.70 689.57L1658.20 688.66L1658.70 687.82L1659.20 687.04L1659.70 686.28L1660.20 685.52L1660.70 684.73L1661.20 683.89L1661.70 682.96L1662.20 681.93L1662.70 680.75L1663.20 679.29L1663.70 677.56L1664.20 675.64L1664.70 673.57L1665.20 671.43L1665.70 669.27L1666.20 667.16L1666.70 665.15L1667.20 663.31L1667.70 661.70L1668.20 660.37L1668.70 659.40L1669.20 658.68L1669.70 658.07L1670.20 657.54L1670.70 657.07L1671.20 656.65L1671.70 656.24L1672.20 655.85L1672.70 655.43L1673.20 654.98L1673.70 654.47L1674.20 653.88L1674.70 653.14L1675.20 652.19L1675.70 651.08L1676.20 649.86L1676.70 648.61L1677.20 647.38L1677.70 646.24L1678.20 645.24L1678.70 644.45L1679.20 643.94L1679.70 643.75L1680.20 643.80L1680.70 643.94L1681.20 644.15L1681.70 644.40L1682.20 644.68L1682.70 644.95L1683.20 645.20L1683.70 645.41L1684.20 645.55L1684.70 645.60L1685.20 645.44L1685.70 645.00L1686.20 644.34L1686.70 643.49L1687.20 642.51L1687.70 641.46L1688.20 640.39L1688.70 639.34L1689.20 638.36L1689.70 637.51L1690.20 636.85L1690.70 636.41L1691.20 636.25L1691.70 636.38L1692.20 636.75L1692.70 637.31L1693.20 638.03L1693.70 638.86L1694.20 639.77L1694.70 640.72L1695.20 641.66L1695.70 642.56L1696.20 643.37L1696.70 644.07L1697.20 644.59L1697.70 644.92L1698.20 644.99L1698.70 644.81L1699.20 644.41L1699.70 643.85L1700.20 643.19L1700.70 642.48L1701.20 641.79L1701.70 641.16L1702.20 640.66L1702.70 640.34L1703.20 640.26L1703.70 640.46L1704.20 640.91L1704.70 641.56L1705.20 642.35L1705.70 643.23L1706.20 644.15L1706.70 645.05L1707.20 645.89L1707.70 646.60L1708.20 647.14L1708.70 647.45L1709.20 647.48L1709.70 647.30L1710.20 646.96L1710.70 646.49L1711.20 645.96L1711.70 645.40L1712.20 644.86L1712.70 644.38L1713.20 644.01L1713.70 643.79L1714.20 643.78L1714.70 644.09L1715.20 644.71L1715.70 645.58L1716.20 646.66L1716.70 647.90L1717.20 649.25L1717.70 650.67L1718.20 652.11L1718.70 653.53L1719.20 654.86L1719.70 656.07L1720.20 657.12L1720.70 657.94L1721.20 658.50L1721.70 658.74L1722.20 658.72L1722.70 658.61L1723.20 658.44L1723.70 658.22L1724.20 657.98L1724.70 657.72L1725.20 657.47L1725.70 657.25L1726.20 657.07L1726.70 656.94L1727.20 656.90L1727.70 657.08L1728.20 657.57L1728.70 658.30L1729.20 659.22L1729.70 660.26L1730.20 661.36L1730.70 662.45L1731.20 663.47L1731.70 664.36L1732.20 665.05L1732.70 665.49L1733.20 665.60L1733.70 665.53L1734.20 665.37L1734.70 665.15L1735.20 664.90L1735.70 664.62L1736.20 664.35L1736.70 664.10L1737.20 663.91L1737.70 663.78L1738.20 663.76L1738.70 663.99L1739.20 664.54L1739.70 665.34L1740.20 666.36L1740.70 667.55L1741.20 668.87L1741.70 670.28L1742.20 671.72L1742.70 673.16L1743.20 674.55L1743.70 675.85L1744.20 677.01L1744.70 677.99L1745.20 678.74L1745.70 679.23L1746.20 679.40L1746.70 679.37L1747.20 679.31L1747.70 679.21L1748.20 679.08L1748.70 678.95L1749.20 678.82L1749.70 678.69L1750.20 678.59L1750.70 678.53L1751.20 678.50L1751.70 678.64L1752.20 679.02L1752.70 679.60L1753.20 680.34L1753.70 681.17L1754.20 682.07L1754.70 682.97L1755.20 683.84L1755.70 684.62L1756.20 685.27L1756.70 685.73L1757.20 685.98L1757.70 685.99L1758.20 685.96L1758.70 685.89L1759.20 685.81L1759.70 685.72L1760.20 685.63L1760.70 685.54L1761.20 685.47L1761.70 685.42L1762.20 685.40L1762.70 685.54L1763.20 685.94L1763.70 686.57L1764.20 687.39L1764.70 688.36L1765.20 689.45L1765.70 690.62L1766.20 691.83L1766.70 693.06L1767.20 694.26L1767.70 695.40L1768.20 696.45L1768.70 697.36L1769.20 698.10L1769.70 698.65L1770.20 698.95L1770.70 699.00L1771.20 698.97L1771.70 698.93L1772.20 698.87L1772.70 698.79L1773.20 698.72L1773.70 698.65L1774.20 698.58L1774.70 698.53L1775.20 698.51L1775.70 698.52L1776.20 698.72L1776.70 699.12L1777.20 699.66L1777.70 700.32L1778.20 701.06L1778.70 701.83L1779.20 702.59L1779.70 703.31L1780.20 703.96L1780.70 704.47L1781.20 704.83L1781.70 705.00L1782.20 704.99L1782.70 704.95L1783.20 704.89L1783.70 704.81L1784.20 704.72L1784.70 704.63L1785.20 704.54L1785.70 704.47L1786.20 704.42L1786.70 704.40L1787.20 704.47L1787.70 704.76L1788.20 705.24L1788.70 705.87L1789.20 706.63L1789.70 707.50L1790.20 708.43L1790.70 709.41L1791.20 710.39L1791.70 711.36L1792.20 712.28L1792.70 713.13L1793.20 713.87L1793.70 714.47L1794.20 714.91L1794.70 715.16L1795.20 715.20L1795.70 715.18L1796.20 715.14L1796.70 715.09L1797.20 715.04L1797.70 714.98L1798.20 714.92L1798.70 714.87L1799.20 714.83L1799.70 714.80L1800.20 714.81L1800.70 714.97L1801.20 715.27L1801.70 715.68L1802.20 716.18L1802.70 716.75L1803.20 717.34L1803.70 717.94L1804.20 718.51L1804.70 719.02L1805.20 719.46L1805.70 719.78L1806.20 719.97L1806.70 720.00L1807.20 719.97L1807.70 719.93L1808.20 719.87L1808.70 719.79L1809.20 719.72L1809.70 719.65L1810.20 719.58L1810.70 719.53L1811.20 719.51L1811.70 719.51L1812.20 719.67L1812.70 719.99L1813.20 720.43L1813.70 720.98L1814.20 721.62L1814.70 722.32L1815.20 723.05L1815.70 723.80L1816.20 724.54L1816.70 725.25L1817.20 725.90L1817.70 726.47L1818.20 726.93L1818.70 727.28L1819.20 727.47L1819.70 727.50L1820.20 727.48L1820.70 727.46L1821.20 727.42L1821.70 727.38L1822.20 727.33L1822.70 727.29L1823.20 727.25L1823.70 727.22L1824.20 727.20L1824.70 727.21L1825.20 727.34L1825.70 727.57L1826.20 727.90L1826.70 728.30L1827.20 728.73L1827.70 729.18L1828.20 729.62L1828.70 730.02L1829.20 730.37L1829.70 730.63L1830.20 730.77L1830.70 730.80L1831.20 730.79L1831.70 730.77L1832.20 730.74L1832.70 730.71L1833.20 730.67L1833.70 730.64L1834.20 730.60L1834.70 730.56L1835.20 730.54L1835.70 730.51L1836.20 730.50L1836.70 730.51L1837.20 730.63L1837.70 730.86L1838.20 731.19L1838.70 731.60L1839.20 732.07L1839.70 732.57L1840.20 733.10L1840.70 733.62L1841.20 734.14L1841.70 734.61L1842.20 735.03L1842.70 735.38L1843.20 735.63L1843.70 735.78L1844.20 735.80L1844.70 735.79L1845.20 735.76L1845.70 735.73L1846.20 735.69L1846.70 735.65L1847.20 735.61L1847.70 735.58L1848.20 735.54L1848.70 735.52L1849.20 735.50L1849.70 735.51L1850.20 735.60L1850.70 735.78L1851.20 736.02L1851.70 736.31L1852.20 736.62L1852.70 736.93L1853.20 737.22L1853.70 737.48L1854.20 737.67L1854.70 737.78L1855.20 737.80L1855.70 737.76L1856.20 737.70L1856.70 737.60L1857.20 737.50L1857.70 737.37L1858.20 737.25L1858.70 737.13L1859.20 737.02L1859.70 736.92L1860.20 736.85L1860.70 736.81L1861.20 736.81L1861.70 736.88L1862.20 737.03L1862.70 737.24L1863.20 737.51L1863.70 737.80L1864.20 738.13L1864.70 738.47L1865.20 738.80L1865.70 739.13L1866.20 739.44L1866.70 739.71L1867.20 739.93L1867.70 740.09L1868.20 740.18L1868.70 740.20L1869.20 740.16L1869.70 740.09L1870.20 740.00L1870.70 739.88L1871.20 739.76L1871.70 739.64L1872.20 739.53L1872.70 739.43L1873.20 739.35L1873.70 739.31L1874.20 739.31L1874.70 739.36L1875.20 739.48L1875.70 739.63L1876.20 739.82L1876.70 740.02L1877.20 740.23L1877.70 740.44L1878.20 740.63L1878.70 740.80L1879.20 740.92L1879.70 740.99L1880.20 740.99L1880.70 740.93L1881.20 740.81L1881.70 740.65L1882.20 740.45L1882.70 740.23L1883.20 740.01L1883.70 739.79L1884.20 739.59L1884.70 739.42L1885.20 739.29L1885.70 739.21L1886.20 739.20L1886.70 739.25L1887.20 739.34L1887.70 739.46L1888.20 739.62L1888.70 739.79L1889.20 739.98L1889.70 740.18L1890.20 740.38L1890.70 740.57L1891.20 740.75L1891.70 740.91L1892.20 741.04L1892.70 741.14L1893.20 741.19L1893.70 741.19L1894.20 741.14L1894.70 741.02L1895.20 740.87L1895.70 740.68L1896.20 740.48L1896.70 740.27L1897.20 740.06L1897.70 739.87L1898.20 739.70L1898.70 739.58L1899.20 739.51L1899.70 739.50L1900.20 739.52L1900.70 739.56L1901.20 739.61L1901.70 739.68L1902.20 739.74L1902.70 739.81L1903.20 739.87L1903.70 739.93L1904.20 739.97L1904.70 740.00L1905.20 739.99L1905.70 739.91L1906.20 739.76L1906.70 739.54L1907.20 739.28L1907.70 738.99L1908.20 738.68L1908.70 738.37L1909.20 738.07L1909.70 737.81L1910.20 737.58L1910.70 737.41L1911.20 737.32L1911.70 737.30L1912.20 737.33L1912.70 737.39L1913.20 737.47L1913.70 737.57L1914.20 737.67L1914.70 737.79L1915.20 737.90L1915.70 738.01L1916.20 738.11L1916.70 738.20L1917.20 738.26L1917.70 738.29L1918.20 738.29L1918.70 738.24L1919.20 738.12L1919.70 737.96L1920.20 737.76L1920.70 737.53L1921.20 737.29L1921.70 737.04L1922.20 736.80L1922.70 736.57L1923.20 736.36L1923.70 736.18L1924.20 736.05L1924.70 735.97L1925.20 735.91L1925.70 735.87L1926.20 735.83L1926.70 735.79L1927.20 735.76L1927.70 735.73L1928.20 735.69L1928.70 735.65L1929.20 735.60L1929.70 735.54L1930.20 735.46L1930.70 735.31L1931.20 735.09L1931.70 734.80L1932.20 734.47L1932.70 734.11L1933.20 733.73L1933.70 733.33L1934.20 732.95L1934.70 732.58L1935.20 732.25L1935.70 731.96L1936.20 731.72L1936.70 731.56L1937.20 731.47L1937.70 731.41L1938.20 731.37L1938.70 731.33L1939.20 731.29L1939.70 731.27L1940.20 731.24L1940.70 731.21L1941.20 731.18L1941.70 731.14L1942.20 731.10L1942.70 731.04L1943.20 730.97L1943.70 730.84L1944.20 730.67L1944.70 730.46L1945.20 730.21L1945.70 729.93L1946.20 729.63L1946.70 729.33L1947.20 729.02L1947.70 728.72L1948.20 728.43L1948.70 728.16L1949.20 727.92L1949.70 727.72L1950.20 727.54L1950.70 727.38L1951.20 727.23L1951.70 727.08L1952.20 726.94L1952.70 726.80L1953.20 726.65L1953.70 726.49L1954.20 726.31L1954.70 726.12L1955.20 725.91L1955.70 725.68L1956.20 725.44L1956.70 725.17L1957.20 724.89L1957.70 724.60L1958.20 724.29L1958.70 723.96L1959.20 723.62L1959.70 723.27L1960.20 722.91L1960.70 722.53L1961.20 722.14L1961.70 721.74" fill="none" stroke="#1f77b4" stroke-width="3.56" stroke-linecap="square" stroke-linejoin="round"/>
</svg></body></html>
